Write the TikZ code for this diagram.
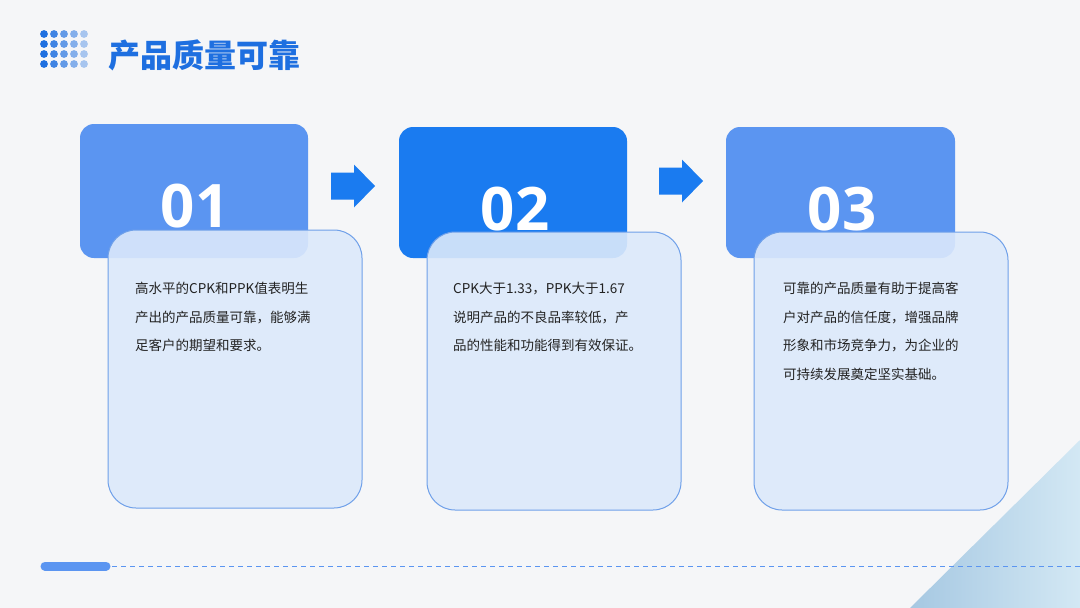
\documentclass[tikz,border=0pt]{standalone}
\usepackage{fontspec}
\setmainfont{Noto Sans CJK SC}
\newfontfamily\numfont{Open Sans}
\definecolor{bg}{HTML}{F5F6F8}
\definecolor{lite}{HTML}{5B95F1}
\definecolor{dark}{HTML}{1A7BF0}
\definecolor{cardfill}{HTML}{DCE9FB}
\definecolor{cardline}{HTML}{6FA0E9}
\definecolor{ttl}{HTML}{1E6FE0}
\definecolor{txt}{HTML}{222222}
\definecolor{triA}{HTML}{A6C8E2}
\definecolor{triB}{HTML}{D3E8F4}
\tikzset{
 card/.style={rounded corners=28pt,fill=cardfill,fill opacity=0.9,draw=cardline,line width=1pt},
 num/.style={text=white,font=\numfont\bfseries\fontsize{60}{60}\selectfont},
 body/.style={text=txt,font=\fontsize{13.5}{28.5}\selectfont,align=left,anchor=north west,inner sep=0pt},
 arr/.style={fill=dark}
}
\begin{document}
\begin{tikzpicture}[x=1pt,y=-1pt]
\fill[bg] (0,0) rectangle (1080,608);
\useasboundingbox (0,0) rectangle (1080,608);
\shade[left color=triA,right color=triB] (910,608) -- (1080,440) -- (1080,608) -- cycle;
% dots
\foreach \i in {0,...,4}{\foreach \j in {0,...,3}{
 \pgfmathsetmacro{\op}{1-0.16*\i}
 \fill[ttl,opacity=\op] (44+10*\i,34+10*\j) circle (3.9);}}
\node[anchor=west,text=ttl,font=\bfseries\fontsize{32}{32}\selectfont,inner sep=0pt] (title) at (108,55) {产品质量可靠};
% card 1
\fill[lite,rounded corners=14pt] (80,124) rectangle (308,258);
\node[num] (n1) at (195,206) {01};
\draw[card] (108,230) rectangle (362,508);
\node[body] (t1) at (135,282) {高水平的CPK和PPK值表明生\\产出的产品质量可靠，能够满\\足客户的期望和要求。};
% card 2
\fill[dark,rounded corners=14pt] (399,127) rectangle (627,258);
\node[num] (n2) at (515,209) {02};
\draw[card] (427,232) rectangle (681,510);
\node[body] (t2) at (453,282) {CPK大于1.33，PPK大于1.67\\说明产品的不良品率较低，产\\品的性能和功能得到有效保证。};
% card 3
\fill[lite,rounded corners=14pt] (726,127) rectangle (955,258);
\node[num] (n3) at (842,209) {03};
\draw[card] (754,232) rectangle (1008,510);
\node[body] (t3) at (783,282) {可靠的产品质量有助于提高客\\户对产品的信任度，增强品牌\\形象和市场竞争力，为企业的\\可持续发展奠定坚实基础。};
% arrows
\foreach \x/\y/\n in {331/186/a1,659/181/a2}{
 \fill[arr] (\x,\y-13.5) -- (\x+23,\y-13.5) -- (\x+23,\y-21.5) -- (\x+44,\y) -- (\x+23,\y+21.5) -- (\x+23,\y+13.5) -- (\x,\y+13.5) -- cycle;}
% bottom
\draw[lite,line width=9pt,line cap=round] (45,566) -- (106,566);
\draw[lite,line width=0.8pt,dash pattern=on 5pt off 4pt] (112,566) -- (1080,566);
\end{tikzpicture}
\end{document}
